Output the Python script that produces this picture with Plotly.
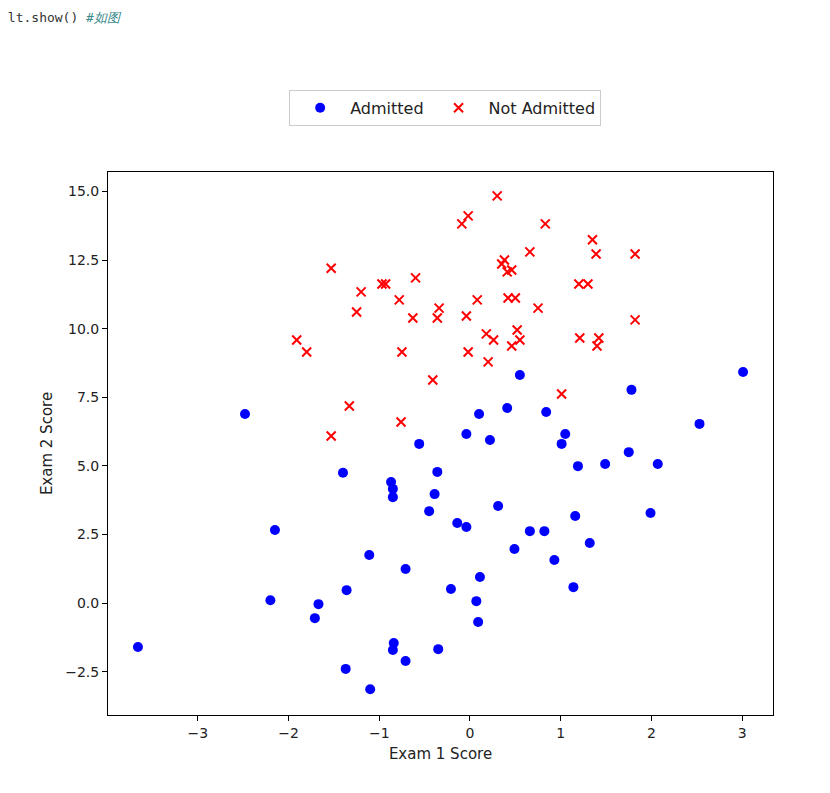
import plotly.graph_objects as go

adm_x = [-3.66,-2.48,-2.15,-2.2,-1.67,-1.71,-1.4,-1.36,-1.37,-1.11,-1.10,-0.87,-0.85,-0.85,-0.84,-0.85,-0.71,-0.71,-0.56,-0.45,-0.39,-0.36,-0.35,-0.21,-0.14,-0.04,-0.04,0.07,0.09,0.10,0.11,0.22,0.31,0.41,0.49,0.55,0.66,0.82,0.84,0.93,1.01,1.05,1.14,1.16,1.19,1.32,1.49,1.75,1.78,1.99,2.07,2.53,3.01]
adm_y = [-1.6,6.89,2.66,0.1,-0.04,-0.55,4.75,0.47,-2.4,1.75,-3.14,4.41,3.86,4.16,-1.46,-1.71,1.24,-2.11,5.8,3.35,3.97,4.78,-1.68,0.51,2.92,6.16,2.77,0.07,-0.69,6.89,0.95,5.94,3.54,7.11,1.97,8.31,2.62,2.62,6.96,1.57,5.8,6.16,0.58,3.17,4.99,2.19,5.07,5.5,7.77,3.28,5.07,6.53,8.42]
not_x = [-1.91,-1.80,-1.53,-1.53,-1.33,-1.25,-1.20,-0.97,-0.93,-0.78,-0.75,-0.76,-0.63,-0.60,-0.41,-0.36,-0.34,-0.09,-0.02,-0.04,-0.02,0.08,0.18,0.20,0.26,0.30,0.35,0.38,0.41,0.46,0.42,0.50,0.46,0.52,0.55,0.66,0.75,0.83,1.01,1.20,1.21,1.30,1.35,1.39,1.40,1.42,1.82,1.82]
not_y = [9.59,9.15,12.2,6.09,7.18,10.61,11.34,11.63,11.63,11.05,9.15,6.60,10.39,11.85,8.13,10.39,10.75,13.82,14.11,10.46,9.15,11.05,9.81,8.79,9.59,14.84,12.36,12.50,12.07,12.14,11.12,11.12,9.37,9.95,9.59,12.80,10.75,13.82,7.62,11.63,9.66,11.63,13.24,12.72,9.37,9.66,12.72,10.32]

fig = go.Figure()
fig.add_trace(go.Scatter(x=adm_x, y=adm_y, mode="markers", name="Admitted",
    marker=dict(color="blue", size=10, symbol="circle")))
fig.add_trace(go.Scatter(x=not_x, y=not_y, mode="markers", name="Not Admitted",
    marker=dict(color="red", size=9, symbol="x-thin", line=dict(color="red", width=2))))

ax = dict(showgrid=False, zeroline=False, showline=True, linecolor="black", mirror=True,
          ticks="outside", ticklen=5, tickcolor="black", tickfont=dict(size=14, color="#222"),
          title_font=dict(size=15, color="#222"))
fig.update_layout(
    width=830, height=793, plot_bgcolor="white", paper_bgcolor="white",
    margin=dict(l=100, r=65, t=164, b=86),
    font=dict(family="DejaVu Sans"),
    xaxis=dict(ax, range=[-3.99, 3.34], tickvals=[-3,-2,-1,0,1,2,3], ticktext=["−3","−2","−1","0","1","2","3"], title_text="Exam 1 Score", title_standoff=8),
    yaxis=dict(ax, range=[-4.08, 15.71], tickvals=[-2.5,0,2.5,5,7.5,10,12.5,15], ticktext=["−2.5","0.0","2.5","5.0","7.5","10.0","12.5","15.0"], title_text="Exam 2 Score", title_standoff=8),
    legend=dict(orientation="h", x=0.507, xanchor="center", y=1.118, yanchor="middle",
                bordercolor="#ccc", borderwidth=1, font=dict(size=16, color="#222"),
                itemwidth=50, tracegroupgap=30),
    showlegend=True,
)
fig.add_annotation(xref="paper", yref="paper", x=-0.166, y=1.285, xanchor="left", yanchor="middle",
    showarrow=False, text="plt.show() <i><span style='color:#3a8a8a'>#如图</span></i>",
    font=dict(family="DejaVu Sans Mono", size=13, color="#333"))
fig.write_html("out.html")
